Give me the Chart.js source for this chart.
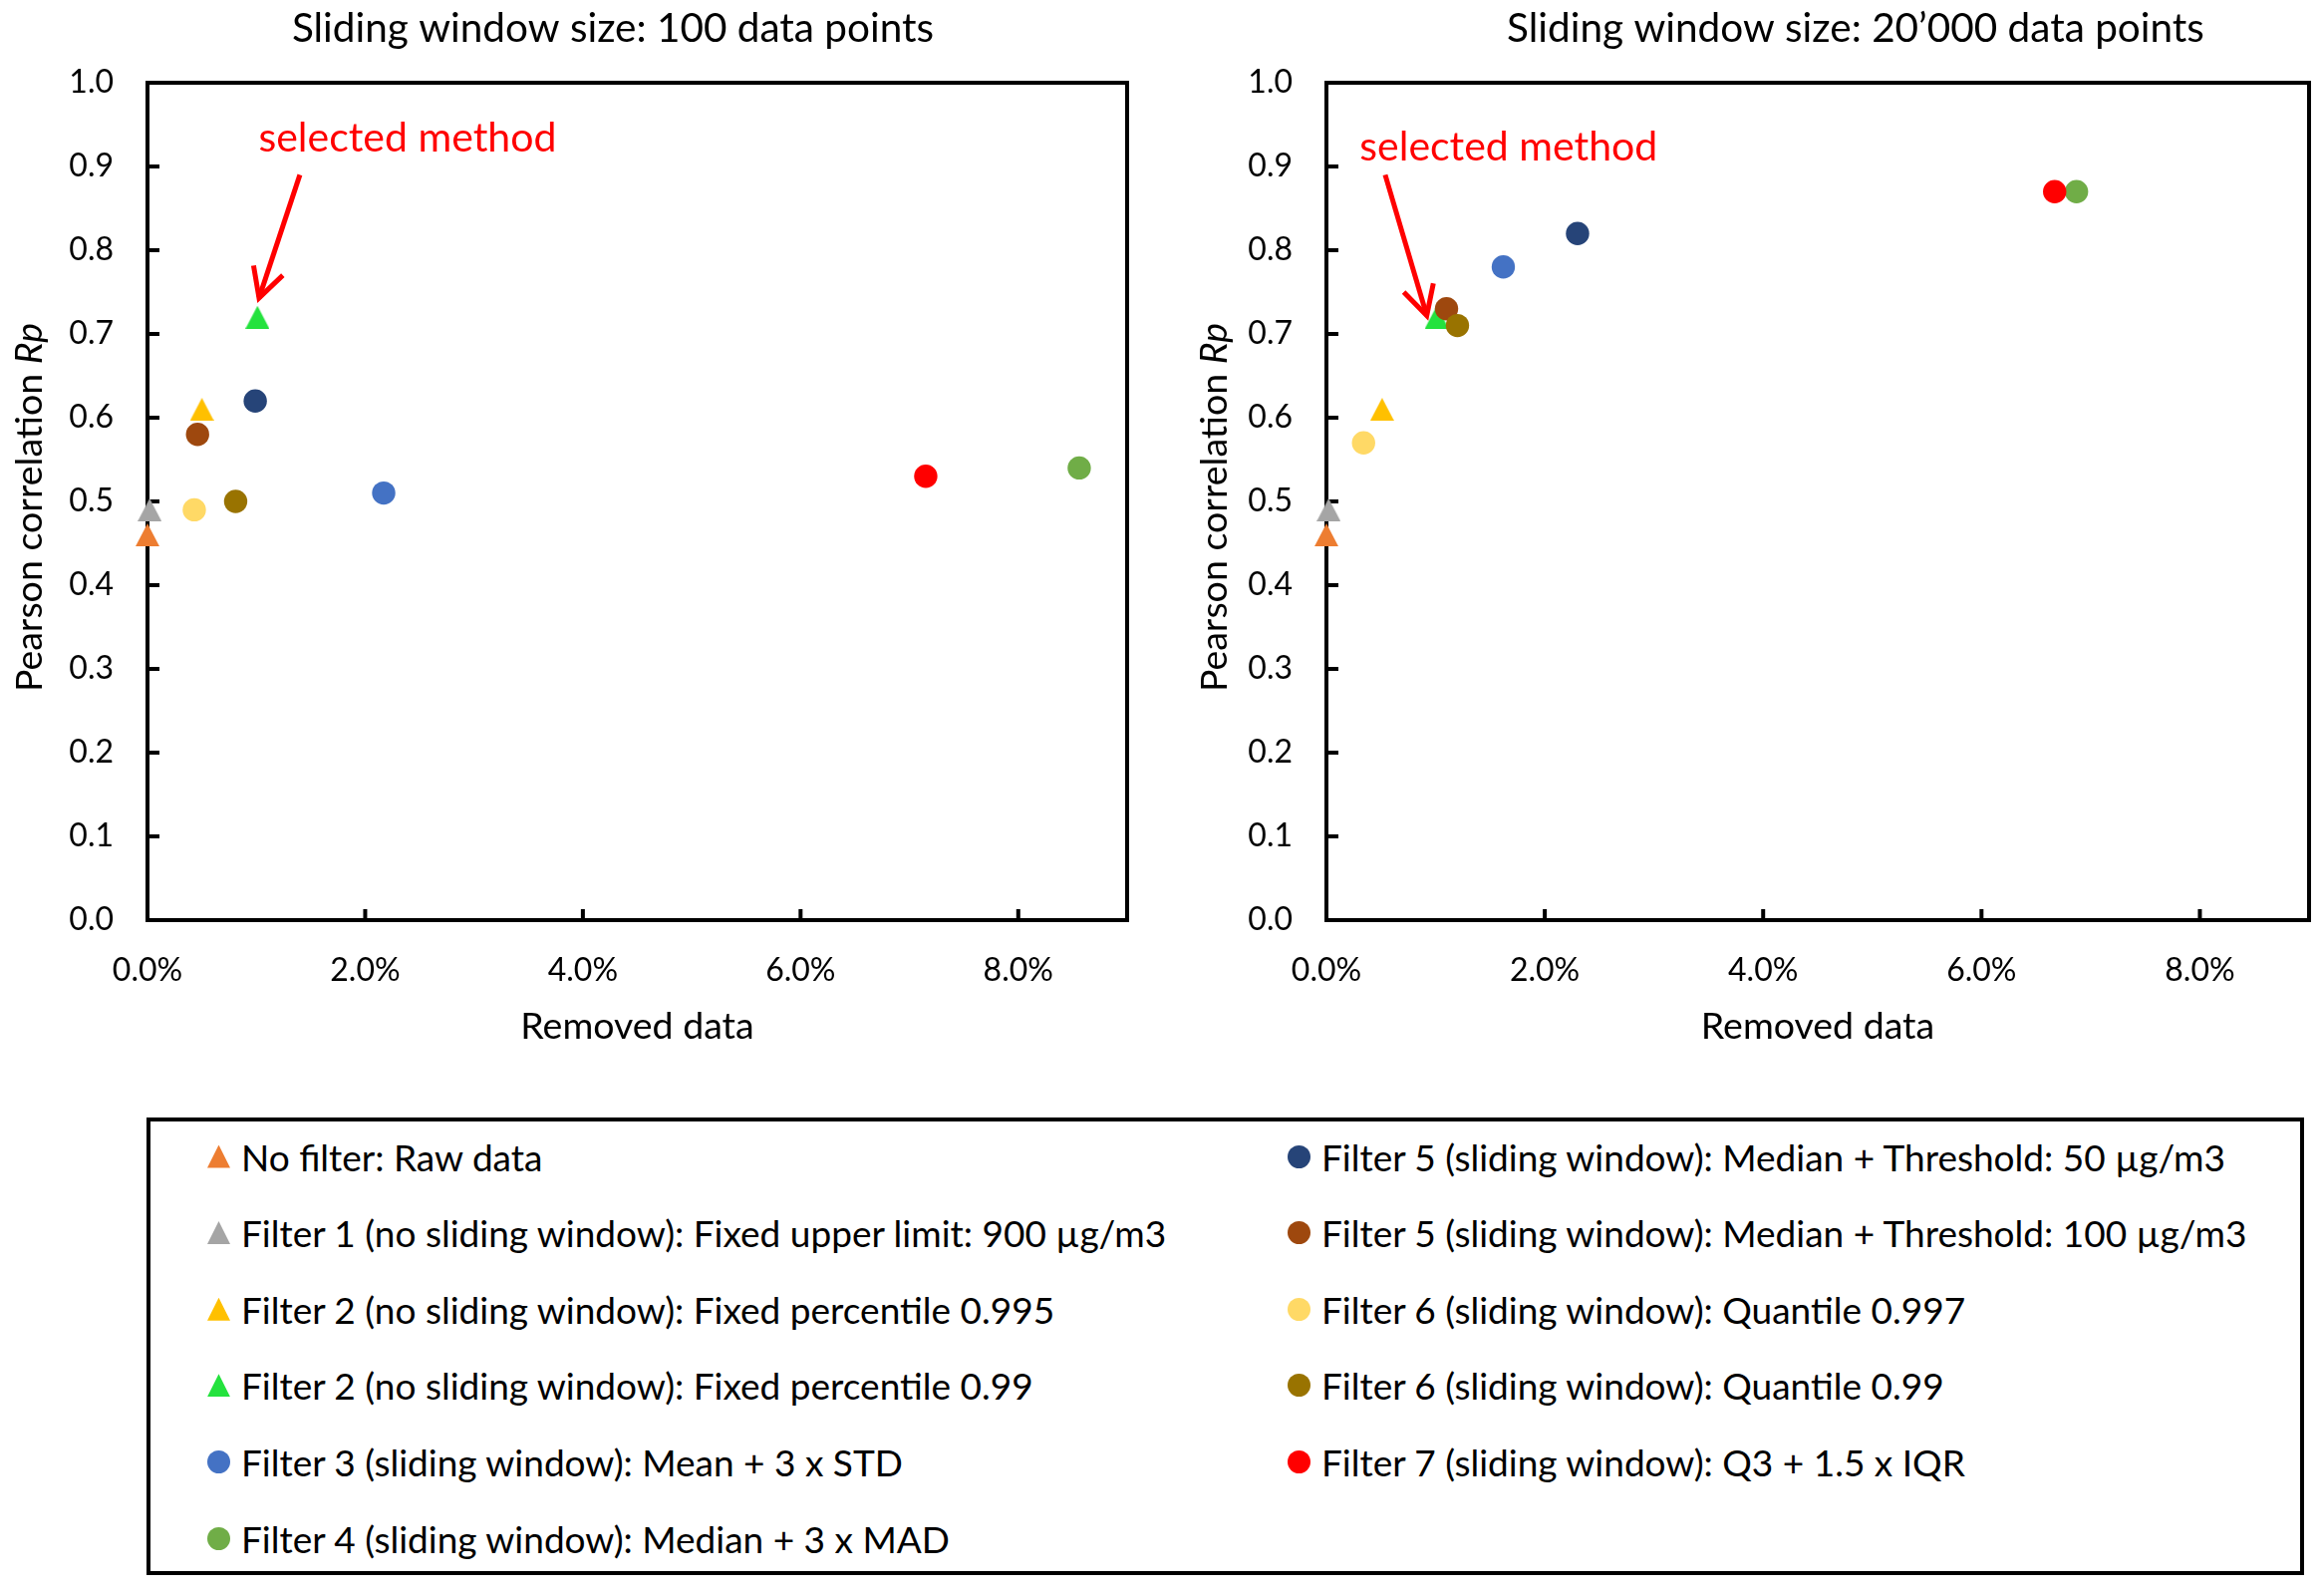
<!DOCTYPE html>
<html>
<head>
<meta charset="utf-8">
<script src="https://cdn.jsdelivr.net/npm/chart.js@4.4.1/dist/chart.umd.min.js"></script>
<style>
  html, body { margin: 0; padding: 0; background: #fff; }
  body { width: 2332px; height: 1601px; position: relative; overflow: hidden; font-family: Lato, sans-serif; }
  .chartBox { position: absolute; top: 0; width: 1166px; height: 1100px; }
  #legendBox { position: absolute; left: 147px; top: 1121px; width: 2165px; height: 459px; border: 4px solid #000; box-sizing: border-box; }
  .legItem { position: absolute; height: 40px; display: flex; align-items: center; font-size: 37px; color: #000; white-space: nowrap; }
  .legMark { width: 23px; height: 23px; margin-right: 11px; flex: none; }
  .legMark.circle { border-radius: 50%; }
  .legMark.triangle { clip-path: polygon(50% 0, 100% 100%, 0 100%); }
</style>
</head>
<body>
<div class="chartBox" style="left:0"><canvas id="chart100" width="1166" height="1100"></canvas></div>
<div class="chartBox" style="left:1166px"><canvas id="chart20k" width="1166" height="1100"></canvas></div>
<div id="legendBox"></div>
<script>
// SERIES (LEGEND ORDER)
var seriesNames = [
  'No filter: Raw data',
  'Filter 1 (no sliding window): Fixed upper limit: 900 µg/m3',
  'Filter 2 (no sliding window): Fixed percentile 0.995',
  'Filter 2 (no sliding window): Fixed percentile 0.99',
  'Filter 3 (sliding window): Mean + 3 x STD',
  'Filter 4 (sliding window): Median + 3 x MAD',
  'Filter 5 (sliding window): Median + Threshold: 50 µg/m3',
  'Filter 5 (sliding window): Median + Threshold: 100 µg/m3',
  'Filter 6 (sliding window): Quantile 0.997',
  'Filter 6 (sliding window): Quantile 0.99',
  'Filter 7 (sliding window): Q3 + 1.5 x IQR'
];
var seriesColors = ['#ED7D31', '#A5A5A5', '#FFC000', '#24E23E', '#4472C4', '#70AD47',
  '#264478', '#9E480E', '#FFD966', '#997300', '#FF0000'];
var seriesShapes = ['triangle', 'triangle', 'triangle', 'triangle', 'circle', 'circle',
  'circle', 'circle', 'circle', 'circle', 'circle'];

// WINDOW 100: REMOVED DATA (%) AND PEARSON Rp
var removed100 = [0.00, 0.02, 0.50, 1.01, 2.17, 8.56, 0.99, 0.46, 0.43, 0.81, 7.15];
var rp100 = [0.46, 0.49, 0.61, 0.72, 0.51, 0.54, 0.62, 0.58, 0.49, 0.50, 0.53];
// WINDOW 20'000
var removed20k = [0.00, 0.02, 0.51, 1.01, 1.62, 6.87, 2.30, 1.10, 0.34, 1.20, 6.67];
var rp20k = [0.46, 0.49, 0.61, 0.72, 0.78, 0.87, 0.82, 0.73, 0.57, 0.71, 0.87];

// AXES
var xMin = 0, xMax = 9, xStep = 2;
var yMin = 0, yMax = 1, yStep = 0.1;

var fontFamily = 'Lato';

function triangleImage(color) {
  var c = document.createElement('canvas');
  c.width = 24; c.height = 23;
  var g = c.getContext('2d');
  g.fillStyle = color;
  g.beginPath();
  g.moveTo(12, 0); g.lineTo(24, 23); g.lineTo(0, 23);
  g.closePath();
  g.fill();
  return c;
}

function drawLine(ctx, x1, y1, x2, y2) {
  ctx.beginPath(); ctx.moveTo(x1, y1); ctx.lineTo(x2, y2); ctx.stroke();
}

// FRAME + INSIDE TICKS
var framePlugin = {
  id: 'frame',
  beforeDatasetsDraw: function (chart) {
    var ctx = chart.ctx, a = chart.chartArea, xs = chart.scales.x, ys = chart.scales.y;
    ctx.save();
    ctx.strokeStyle = '#000';
    ctx.lineWidth = 4;
    ctx.strokeRect(a.left, a.top, a.right - a.left, a.bottom - a.top);
    xs.ticks.forEach(function (t) {
      var px = xs.getPixelForValue(t.value);
      drawLine(ctx, px, a.bottom, px, a.bottom - 11);
    });
    ys.ticks.forEach(function (t) {
      var py = ys.getPixelForValue(t.value);
      drawLine(ctx, a.left, py, a.left + 12, py);
    });
    ctx.restore();
  }
};

// TITLES, Y TITLE WITH ITALIC Rp, ANNOTATION ARROW
var notePlugin = {
  id: 'notes',
  afterDatasetsDraw: function (chart, args, o) {
    var ctx = chart.ctx, a = chart.chartArea, xs = chart.scales.x, ys = chart.scales.y;
    ctx.save();
    ctx.fillStyle = '#000';
    ctx.font = '40.5px ' + fontFamily;
    ctx.textAlign = 'center';
    ctx.textBaseline = 'alphabetic';
    ctx.fillText(o.title, o.titleX, 42);

    // y axis title
    var p1 = 'Pearson correlation ', p2 = 'Rp';
    var f1 = '37.5px ' + fontFamily, f2 = 'italic 37.5px ' + fontFamily;
    ctx.font = f1; var w1 = ctx.measureText(p1).width;
    ctx.font = f2; var w2 = ctx.measureText(p2).width;
    ctx.translate(o.yTitleX, (a.top + a.bottom) / 2 + 6);
    ctx.rotate(-Math.PI / 2);
    ctx.textAlign = 'left';
    ctx.textBaseline = 'middle';
    ctx.font = f1; ctx.fillText(p1, -(w1 + w2) / 2, 0);
    ctx.font = f2; ctx.fillText(p2, -(w1 + w2) / 2 + w1, 0);
    ctx.setTransform(1, 0, 0, 1, 0, 0);

    // selected method
    var n = o.note;
    ctx.fillStyle = '#FF0000';
    ctx.strokeStyle = '#FF0000';
    ctx.font = '41px ' + fontFamily;
    ctx.textAlign = 'left';
    ctx.textBaseline = 'alphabetic';
    ctx.fillText('selected method', xs.getPixelForValue(n.textX), ys.getPixelForValue(n.textY));
    var tx = xs.getPixelForValue(n.tailX), ty = ys.getPixelForValue(n.tailY);
    var hx = xs.getPixelForValue(n.tipX), hy = ys.getPixelForValue(n.tipY);
    ctx.lineWidth = 5;
    ctx.lineJoin = 'miter';
    drawLine(ctx, tx, ty, hx, hy);
    var ang = Math.atan2(ty - hy, tx - hx), len = 33, spread = 28 * Math.PI / 180;
    ctx.beginPath();
    ctx.moveTo(hx + len * Math.cos(ang - spread), hy + len * Math.sin(ang - spread));
    ctx.lineTo(hx, hy);
    ctx.lineTo(hx + len * Math.cos(ang + spread), hy + len * Math.sin(ang + spread));
    ctx.stroke();
    ctx.restore();
  }
};

function makeChart(id, xs, ys, o) {
  var datasets = seriesNames.map(function (name, i) {
    return {
      label: name,
      data: [{ x: xs[i], y: ys[i] }],
      backgroundColor: seriesColors[i],
      borderWidth: 0,
      pointStyle: seriesShapes[i] == 'triangle' ? triangleImage(seriesColors[i]) : 'circle',
      pointRadius: 11.7,
      pointHoverRadius: 11.7,
      clip: false,
      order: seriesNames.length - i
    };
  });
  var tickFont = { family: fontFamily, size: 32 };
  return new Chart(document.getElementById(id), {
    type: 'scatter',
    data: { datasets: datasets },
    options: {
      responsive: false,
      animation: false,
      devicePixelRatio: 1,
      layout: { padding: { top: 83, left: 0, right: o.padRight, bottom: 0 } },
      scales: {
        x: {
          type: 'linear', min: xMin, max: xMax,
          afterFit: function (s) { s.height = 177; },
          grid: { display: false, drawTicks: false },
          border: { display: false },
          ticks: {
            stepSize: xStep, includeBounds: false, padding: 31, color: '#000', font: tickFont,
            callback: function (v) { return v.toFixed(1) + '%'; }
          },
          title: { display: true, text: 'Removed data', color: '#000', font: { family: fontFamily, size: 37.5 }, padding: { top: 0, bottom: 48 } }
        },
        y: {
          type: 'linear', min: yMin, max: yMax,
          afterFit: function (s) { s.width = o.yWidth; },
          grid: { display: false, drawTicks: false },
          border: { display: false },
          ticks: {
            stepSize: yStep, padding: 34, color: '#000', font: tickFont,
            callback: function (v) { return v.toFixed(1); }
          }
        }
      },
      plugins: {
        legend: { display: false },
        tooltip: { enabled: false },
        notes: o
      }
    },
    plugins: [framePlugin, notePlugin]
  });
}

makeChart('chart100', removed100, rp100, {
  padRight: 35, yWidth: 148, yTitleX: 30, titleX: 615,
  title: 'Sliding window size: 100 data points',
  note: { textX: 1.02, textY: 0.918, tailX: 1.40, tailY: 0.890, tipX: 1.025, tipY: 0.743 }
});
makeChart('chart20k', removed20k, rp20k, {
  padRight: 15, yWidth: 165, yTitleX: 53, titleX: 696,
  title: 'Sliding window size: 20\u2019000 data points',
  note: { textX: 0.304, textY: 0.9075, tailX: 0.538, tailY: 0.890, tipX: 0.919, tipY: 0.722 }
});

// LEGEND BOX (TWO COLUMNS, SAME ORDER AS SERIES)
var legendBox = document.getElementById('legendBox');
seriesNames.forEach(function (name, i) {
  var col = i < 6 ? 0 : 1;
  var row = i < 6 ? i : i - 6;
  var item = document.createElement('div');
  item.className = 'legItem';
  item.style.left = (col ? 1141 : 57) + 'px';
  item.style.top = (35 + row * 76.6 - 20) + 'px';
  var mark = document.createElement('span');
  mark.className = 'legMark ' + seriesShapes[i];
  mark.style.background = seriesColors[i];
  var txt = document.createElement('span');
  txt.textContent = name;
  item.appendChild(mark);
  item.appendChild(txt);
  legendBox.appendChild(item);
});
</script>
</body>
</html>
